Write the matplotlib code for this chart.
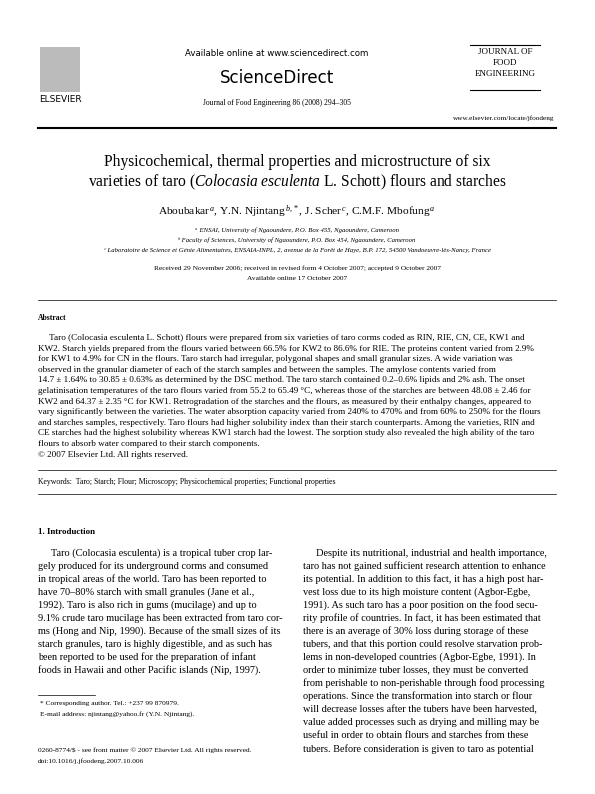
import matplotlib.pyplot as plt
from matplotlib.patches import Rectangle
from matplotlib.lines import Line2D

plt.rcParams['font.family'] = ['Liberation Serif', 'DejaVu Serif']
plt.rcParams['mathtext.fontset'] = 'custom'
plt.rcParams['mathtext.rm'] = 'Liberation Serif'
plt.rcParams['mathtext.it'] = 'Liberation Serif:italic'

W, H = 595, 794

header_lines = [
    "Available online at www.sciencedirect.com",
    "Journal of Food Engineering 86 (2008) 294–305",
]
title_lines = [
    "Physicochemical, thermal properties and microstructure of six",
    r"varieties of taro ($\it{Colocasia\ esculenta}$ L. Schott) flours and starches",
]
authors = r"Aboubakar$^{\,a}$, Y.N. Njintang$^{\,b,*}$, J. Scher$^{\,c}$, C.M.F. Mbofung$^{\,a}$"
affiliations = [
    "ᵃ ENSAI, University of Ngaoundere, P.O. Box 455, Ngaoundere, Cameroon",
    "ᵇ Faculty of Sciences, University of Ngaoundere, P.O. Box 454, Ngaoundere, Cameroon",
    "ᶜ Laboratoire de Science et Génie Alimentaires, ENSAIA-INPL, 2, avenue de la Forêt de Haye, B.P. 172, 54500 Vandoeuvre-lès-Nancy, France",
]
dates = [
    "Received 29 November 2006; received in revised form 4 October 2007; accepted 9 October 2007",
    "Available online 17 October 2007",
]
abstract_lines = [
    "     Taro (Colocasia esculenta L. Schott) flours were prepared from six varieties of taro corms coded as RIN, RIE, CN, CE, KW1 and",
    "KW2. Starch yields prepared from the flours varied between 66.5% for KW2 to 86.6% for RIE. The proteins content varied from 2.9%",
    "for KW1 to 4.9% for CN in the flours. Taro starch had irregular, polygonal shapes and small granular sizes. A wide variation was",
    "observed in the granular diameter of each of the starch samples and between the samples. The amylose contents varied from",
    "14.7 ± 1.64% to 30.85 ± 0.63% as determined by the DSC method. The taro starch contained 0.2–0.6% lipids and 2% ash. The onset",
    "gelatinisation temperatures of the taro flours varied from 55.2 to 65.49 °C, whereas those of the starches are between 48.08 ± 2.46 for",
    "KW2 and 64.37 ± 2.35 °C for KW1. Retrogradation of the starches and the flours, as measured by their enthalpy changes, appeared to",
    "vary significantly between the varieties. The water absorption capacity varied from 240% to 470% and from 60% to 250% for the flours",
    "and starches samples, respectively. Taro flours had higher solubility index than their starch counterparts. Among the varieties, RIN and",
    "CE starches had the highest solubility whereas KW1 starch had the lowest. The sorption study also revealed the high ability of the taro",
    "flours to absorb water compared to their starch components.",
    "© 2007 Elsevier Ltd. All rights reserved.",
]
keywords = "Keywords:  Taro; Starch; Flour; Microscopy; Physicochemical properties; Functional properties"
left_col = [
    "     Taro (Colocasia esculenta) is a tropical tuber crop lar-",
    "gely produced for its underground corms and consumed",
    "in tropical areas of the world. Taro has been reported to",
    "have 70–80% starch with small granules (Jane et al.,",
    "1992). Taro is also rich in gums (mucilage) and up to",
    "9.1% crude taro mucilage has been extracted from taro cor-",
    "ms (Hong and Nip, 1990). Because of the small sizes of its",
    "starch granules, taro is highly digestible, and as such has",
    "been reported to be used for the preparation of infant",
    "foods in Hawaii and other Pacific islands (Nip, 1997).",
]
right_col = [
    "     Despite its nutritional, industrial and health importance,",
    "taro has not gained sufficient research attention to enhance",
    "its potential. In addition to this fact, it has a high post har-",
    "vest loss due to its high moisture content (Agbor-Egbe,",
    "1991). As such taro has a poor position on the food secu-",
    "rity profile of countries. In fact, it has been estimated that",
    "there is an average of 30% loss during storage of these",
    "tubers, and that this portion could resolve starvation prob-",
    "lems in non-developed countries (Agbor-Egbe, 1991). In",
    "order to minimize tuber losses, they must be converted",
    "from perishable to non-perishable through food processing",
    "operations. Since the transformation into starch or flour",
    "will decrease losses after the tubers have been harvested,",
    "value added processes such as drying and milling may be",
    "useful in order to obtain flours and starches from these",
    "tubers. Before consideration is given to taro as potential",
]
footnotes = [
    "* Corresponding author. Tel.: +237 99 870979.",
    "E-mail address: njintang@yahoo.fr (Y.N. Njintang).",
]
bottom_lines = [
    "0260-8774/$ - see front matter © 2007 Elsevier Ltd. All rights reserved.",
    "doi:10.1016/j.jfoodeng.2007.10.006",
]

fig = plt.figure(figsize=(W / 100, H / 100), dpi=100)
fig.patch.set_facecolor('white')


def t(x, y, s, size=6, ha='left', **kw):
    fig.text(x / W, 1 - y / H, s, fontsize=size, ha=ha, va='center', **kw)


def hline(y, x0=38, x1=556, lw=0.6):
    fig.add_artist(Line2D([x0 / W, x1 / W], [1 - y / H] * 2, color='black', lw=lw))


# header
t(277, 54, header_lines[0], 6.2, 'center', family='DejaVu Sans')
t(277, 78, "ScienceDirect", 12, 'center', family='DejaVu Sans')
t(277, 103, header_lines[1], 5.5, 'center')
t(60, 100, "ELSEVIER", 6.5, 'center', family='DejaVu Sans')
fig.add_artist(Rectangle((40 / W, 1 - 92 / H), 40 / W, 45 / H, fc='#bbbbbb', ec='none'))
t(505, 52, "JOURNAL OF", 6.5, 'center')
t(505, 63, "FOOD", 6.5, 'center')
t(505, 74, "ENGINEERING", 6.5, 'center')
hline(45, 470, 540, 0.8)
hline(90, 470, 540, 0.8)
t(554, 118, "www.elsevier.com/locate/jfoodeng", 5.2, 'right')
hline(128, lw=1.5)

# title block
t(297, 162, title_lines[0], 11.2, 'center')
t(297, 182, title_lines[1], 11.2, 'center')
t(297, 212, authors, 8.2, 'center')
for i, s in enumerate(affiliations):
    t(297, 230 + 10 * i, s, 4.9, 'center', style='italic',
      family=['Liberation Serif', 'DejaVu Serif'])
for i, s in enumerate(dates):
    t(297, 268 + 10 * i, s, 5.3, 'center')
hline(300, lw=0.5)

# abstract
t(38, 318, "Abstract", 5.5, weight='bold')
for i, s in enumerate(abstract_lines):
    t(38, 338 + 10.6 * i, s, 6.6)
hline(470, lw=0.5)
t(38, 482, keywords, 5.6)
hline(494, lw=0.5)

# body
t(38, 532, "1. Introduction", 6.4, weight='bold')
for i, s in enumerate(left_col):
    t(38, 553 + 13.05 * i, s, 7.4)
for i, s in enumerate(right_col):
    t(303, 553 + 13.05 * i, s, 7.4)
hline(695, 38, 95, 0.5)
for i, s in enumerate(footnotes):
    t(40, 704 + 10 * i, s, 5.3)
for i, s in enumerate(bottom_lines):
    t(38, 750 + 11 * i, s, 5.3)

fig.savefig("out.png", dpi=100)
